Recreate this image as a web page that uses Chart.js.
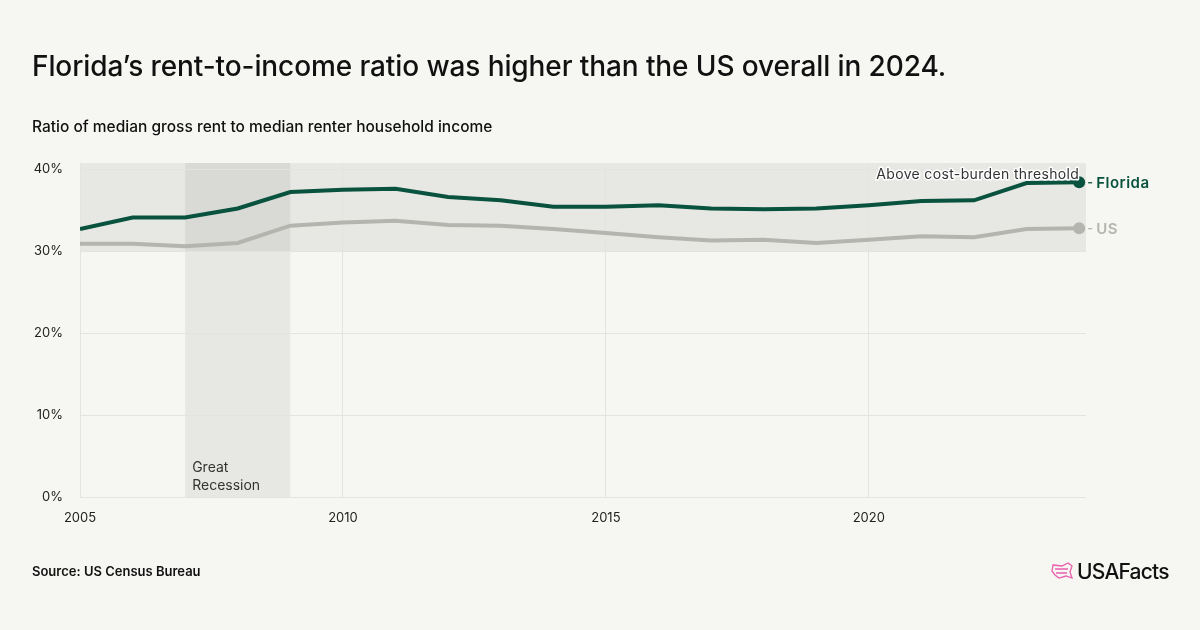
<!DOCTYPE html>
<html>
<head>
<meta charset="utf-8">
<script src="https://cdn.jsdelivr.net/npm/chart.js@4/dist/chart.umd.min.js"></script>
<style>
  html, body { margin: 0; padding: 0; background: #f6f6f2; }
  canvas { display: block; }
</style>
</head>
<body>
<canvas id="rent" width="1200" height="630"></canvas>
<script>
const years = [2005, 2006, 2007, 2008, 2009, 2010, 2011, 2012, 2013, 2014,
               2015, 2016, 2017, 2018, 2019, 2020, 2021, 2022, 2023, 2024];
const florida = [32.7, 34.1, 34.1, 35.2, 37.2, 37.5, 37.6, 36.6, 36.2, 35.4,
                 35.4, 35.6, 35.2, 35.1, 35.2, 35.6, 36.1, 36.2, 38.3, 38.4];
const us = [30.9, 30.9, 30.6, 31.0, 33.1, 33.5, 33.7, 33.2, 33.1, 32.7,
            32.2, 31.7, 31.3, 31.4, 31.0, 31.4, 31.8, 31.7, 32.7, 32.8];
const seriesNames = ["Florida", "US"];
const yTicks = [0, 10, 20, 30, 40];
const recession = [2007, 2009];
const threshold = 30;

const green = "#08523e";
const grey = "#b5b5b0";
const FONT = "Inter, 'Noto Sans', sans-serif";

function lastOnly(r) {
  return years.map((y, i) => i === years.length - 1 ? r : 0);
}

// shaded bands, drawn under grid and lines
const bands = {
  id: "bands",
  beforeDraw(chart) {
    const ctx = chart.ctx, a = chart.chartArea;
    const x = chart.scales.x, y = chart.scales.y;
    ctx.save();
    ctx.fillStyle = "#f6f6f2";
    ctx.fillRect(0, 0, chart.width, chart.height);
    ctx.fillStyle = "rgba(60,60,40,0.075)";
    const yT = y.getPixelForValue(threshold);
    ctx.fillRect(a.left, a.top, a.right - a.left, yT - a.top);
    const x0 = x.getPixelForValue(recession[0]), x1 = x.getPixelForValue(recession[1]);
    ctx.fillRect(x0, a.top, x1 - x0, a.bottom - a.top);
    ctx.restore();
  },
  afterDatasetsDraw(chart) {
    const ctx = chart.ctx, a = chart.chartArea;
    const x = chart.scales.x;
    ctx.save();
    // band notes
    ctx.font = "400 14px " + FONT;
    ctx.textBaseline = "middle";
    ctx.textAlign = "left";
    ctx.fillStyle = "#333";
    const xr = x.getPixelForValue(recession[0]);
    ctx.fillText("Great", xr + 7, 468);
    ctx.fillText("Recession", xr + 7, 486);

    ctx.textAlign = "right";
    ctx.lineJoin = "round";
    ctx.strokeStyle = "#ffffff";
    ctx.lineWidth = 3;
    ctx.letterSpacing = "0.35px";
    const xe = x.getPixelForValue(years[years.length - 1]);
    ctx.strokeText("Above cost-burden threshold", xe, a.top + 12);
    ctx.fillText("Above cost-burden threshold", xe, a.top + 12);

    // end labels
    ctx.textAlign = "left";
    chart.data.datasets.forEach((ds, i) => {
      const meta = chart.getDatasetMeta(i);
      const p = meta.data[meta.data.length - 1];
      ctx.strokeStyle = ds.borderColor;
      ctx.lineWidth = 1.3;
      ctx.beginPath();
      ctx.moveTo(p.x + 9, p.y + 0.5);
      ctx.lineTo(p.x + 13, p.y + 0.5);
      ctx.stroke();
      ctx.font = "600 15px " + FONT;
      ctx.letterSpacing = "0.5px";
      ctx.fillStyle = ds.borderColor;
      ctx.fillText(ds.label, p.x + 17, p.y + 1);
    });
    ctx.restore();
  },
  afterDraw(chart) {
    const ctx = chart.ctx;
    ctx.save();
    ctx.fillStyle = "#111";
    ctx.textAlign = "left";
    ctx.textBaseline = "alphabetic";
    ctx.font = "500 28px " + FONT;
    ctx.letterSpacing = "-0.1px";
    ctx.fillText("Florida\u2019s rent-to-income ratio was higher than the US overall in 2024.", 32, 76);
    ctx.font = "500 15.5px " + FONT;
    ctx.letterSpacing = "0px";
    ctx.fillText("Ratio of median gross rent to median renter household income", 32, 132);
    ctx.font = "600 13px " + FONT;
    ctx.fillText("Source: US Census Bureau", 32, 576);
    ctx.font = "500 21px " + FONT;
    ctx.letterSpacing = "-0.8px";
    ctx.fillText("USAFacts", 1077, 579);
    // logo mark
    ctx.strokeStyle = "#ea5fae";
    ctx.lineWidth = 1.3;
    ctx.beginPath();
    ctx.moveTo(1053, 565); ctx.lineTo(1062, 566); ctx.lineTo(1068, 563);
    ctx.lineTo(1072, 566); ctx.lineTo(1070, 572); ctx.lineTo(1072, 578);
    ctx.lineTo(1066, 576); ctx.lineTo(1059, 578); ctx.lineTo(1055, 575);
    ctx.lineTo(1052, 571); ctx.closePath();
    ctx.stroke();
    ctx.beginPath();
    ctx.moveTo(1055, 569); ctx.lineTo(1068, 569);
    ctx.moveTo(1056, 573); ctx.lineTo(1067, 573);
    ctx.stroke();
    ctx.restore();
  }
};

new Chart(document.getElementById("rent").getContext("2d"), {
  type: "line",
  data: {
    datasets: [
      {
        label: seriesNames[0],
        data: years.map((yr, i) => ({ x: yr, y: florida[i] })),
        borderColor: green,
        backgroundColor: green,
        borderWidth: 4,
        pointRadius: lastOnly(6),
        pointHoverRadius: lastOnly(6),
        pointBorderWidth: 0,
        tension: 0
      },
      {
        label: seriesNames[1],
        data: years.map((yr, i) => ({ x: yr, y: us[i] })),
        borderColor: grey,
        backgroundColor: grey,
        borderWidth: 4,
        pointRadius: lastOnly(6),
        pointHoverRadius: lastOnly(6),
        pointBorderWidth: 0,
        tension: 0
      }
    ]
  },
  options: {
    responsive: false,
    animation: false,
    devicePixelRatio: 1,
    layout: { padding: { left: 0, top: 163, right: 114, bottom: 0 } },
    plugins: {
      legend: { display: false },
      tooltip: { enabled: false }
    },
    scales: {
      x: {
        type: "linear",
        min: years[0],
        max: years[years.length - 1] + 0.13,
        border: { display: false },
        grid: { color: "#e3e3df", lineWidth: 1, drawTicks: false },
        ticks: {
          stepSize: 5,
          includeBounds: false,
          autoSkip: false,
          maxRotation: 0,
          padding: 13,
          color: "#222",
          font: { family: FONT, size: 13 },
          callback: v => String(v)
        },
        afterFit(scale) { scale.height = 133; }
      },
      y: {
        min: 0,
        max: 40.75,
        border: { display: false },
        grid: { color: "#e3e3df", lineWidth: 1, drawTicks: false },
        afterBuildTicks(scale) { scale.ticks = yTicks.map(v => ({ value: v })); },
        ticks: {
          padding: 17,
          color: "#222",
          font: { family: FONT, size: 13 },
          callback: v => v + "%"
        },
        afterFit(scale) { scale.width = 80; }
      }
    }
  },
  plugins: [bands]
});
</script>
</body>
</html>
